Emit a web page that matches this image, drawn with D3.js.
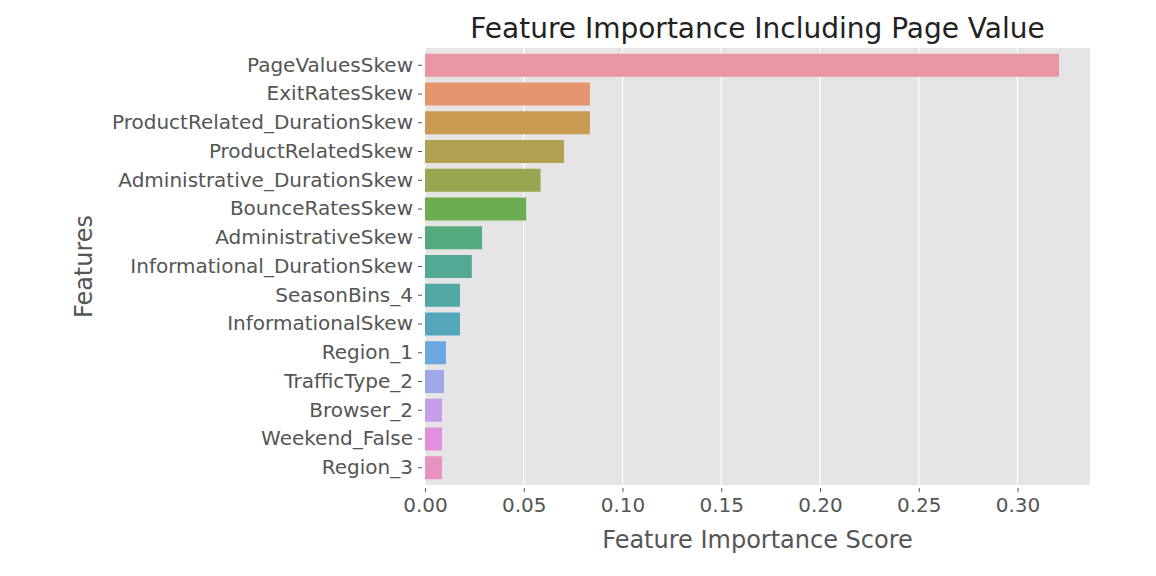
<!DOCTYPE html>
<html><head><meta charset="utf-8">
<script src="https://cdn.jsdelivr.net/npm/d3@7"></script>
<style>body{margin:0;background:#fff;font-family:"DejaVu Sans",sans-serif;}</style>
</head><body><div id="chart"></div>
<script>
const features = ["PageValuesSkew","ExitRatesSkew","ProductRelated_DurationSkew","ProductRelatedSkew",
  "Administrative_DurationSkew","BounceRatesSkew","AdministrativeSkew","Informational_DurationSkew",
  "SeasonBins_4","InformationalSkew","Region_1","TrafficType_2","Browser_2","Weekend_False","Region_3"];
const scores = [0.321,0.0835,0.0835,0.0704,0.0585,0.0512,0.0289,0.0237,0.0177,0.0177,0.0106,0.0096,0.0086,0.0086,0.0086];
const colors = ["#ea96a3","#e5966f","#c99a52","#b1a052","#9aa54f","#6cad4f","#55ab7e","#52aa94","#52a8a4","#54a6b9","#6aa8e0","#9ea8e8","#c59de8","#e190df","#e693c1"];
const ticks = [0,0.05,0.10,0.15,0.20,0.25,0.30];

const W = 1156, H = 576, m = {top: 48, right: 66, bottom: 91, left: 425};
const w = W - m.left - m.right, h = H - m.top - m.bottom;
const svg = d3.select("#chart").append("svg").attr("width", W).attr("height", H);
const g = svg.append("g").attr("transform", `translate(${m.left},${m.top})`);

g.append("rect").attr("width", w).attr("height", h).attr("fill", "#e5e5e5");

const x = d3.scaleLinear().domain([0, 0.3367]).range([0, w]);
const y = d3.scaleBand().domain(features).range([0, h]).padding(0.2);

g.selectAll(".grid").data(ticks).enter().append("line")
  .attr("x1", d => x(d)).attr("x2", d => x(d)).attr("y1", 0).attr("y2", h)
  .attr("stroke", "#fff").attr("stroke-width", 1.2);

g.selectAll(".bar").data(features).enter().append("rect")
  .attr("x", 0).attr("y", d => y(d)).attr("height", y.bandwidth())
  .attr("width", (d, i) => x(scores[i])).attr("fill", (d, i) => colors[i]);

const xa = g.append("g").attr("transform", `translate(0,${h + 3})`)
  .call(d3.axisBottom(x).tickValues(ticks).tickFormat(d3.format(".2f")).tickSize(4).tickPadding(6));
const ya = g.append("g").attr("transform", "translate(-3,0)")
  .call(d3.axisLeft(y).tickSize(4).tickPadding(5));
[xa, ya].forEach(a => {
  a.select(".domain").remove();
  a.selectAll("line").attr("stroke", "#555");
  a.selectAll("text").attr("fill", "#555").style("font-size", "20px").style("font-family", "DejaVu Sans");
});

svg.append("text").attr("x", m.left + w / 2).attr("y", 38).attr("text-anchor", "middle")
  .style("font-size", "28px").attr("fill", "#222").text("Feature Importance Including Page Value");
svg.append("text").attr("x", m.left + w / 2).attr("y", 548).attr("text-anchor", "middle")
  .style("font-size", "24px").attr("fill", "#555").text("Feature Importance Score");
svg.append("text").attr("transform", `translate(92,${m.top + h / 2}) rotate(-90)`).attr("text-anchor", "middle")
  .style("font-size", "24px").attr("fill", "#555").text("Features");
</script></body></html>
